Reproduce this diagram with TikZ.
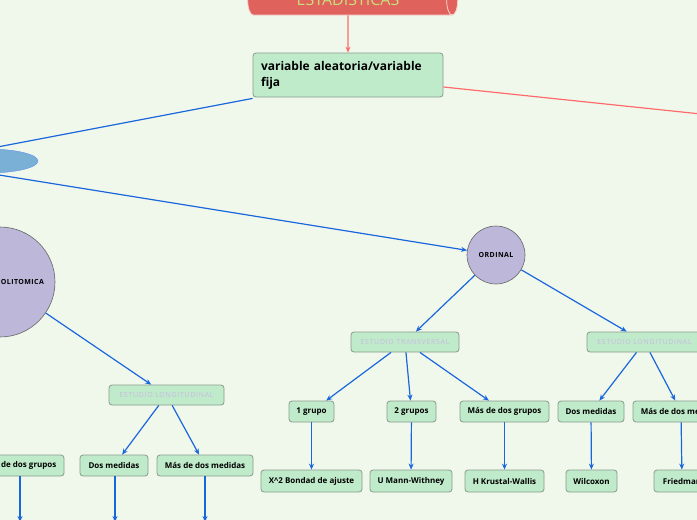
\documentclass[tikz,border=0pt]{standalone}
\usepackage{fontspec}
\setmainfont{Open Sans}
\newfontfamily\spaced[LetterSpace=10]{Open Sans}
\newfontfamily\spacedbf[LetterSpace=6]{Open Sans}
\usetikzlibrary{arrows.meta, positioning, calc, shapes.geometric}

\definecolor{bgcol}{HTML}{F0F8EC}
\definecolor{boxfill}{HTML}{C0EBCB}
\definecolor{boxdraw}{HTML}{8A9A8C}
\definecolor{circfill}{HTML}{BDB7DA}
\definecolor{ellfill}{HTML}{7BB0D6}
\definecolor{linkblue}{HTML}{1A66DD}
\definecolor{linkred}{HTML}{FF6B6B}
\definecolor{rootfill}{HTML}{E0625C}
\definecolor{roottext}{HTML}{C8E07A}
\definecolor{studytext}{HTML}{C9B8E3}

\begin{document}
\begin{tikzpicture}[
    x=1pt, y=-1pt,
    % Standard arrow
    arrow/.style={-{Stealth[length=6pt, width=5pt]}, linkblue, line width=1.2pt},
    redarrow/.style={-{Stealth[length=6pt, width=5pt]}, linkred, line width=1.2pt},
    % Boxes of the map
    leafbox/.style={draw=boxdraw, fill=boxfill, rounded corners=3pt, line width=0.8pt,
                    font=\bfseries\fontsize{8}{9}\selectfont, inner sep=0pt,
                    minimum height=21pt, text=black},
    studybox/.style={leafbox, minimum height=20pt,
                    font=\spaced\fontsize{7}{8}\selectfont, text=studytext},
    kindcirc/.style={circle, draw=gray!80!black, fill=circfill, line width=0.6pt,
                    font=\spacedbf\bfseries\fontsize{7}{8}\selectfont, inner sep=0pt}
]

% === BACKGROUND ===
\fill[bgcol] (0,0) rectangle (697,520);
\useasboundingbox (0,0) rectangle (697,520);
\clip (0,0) rectangle (697,520);

% === NODES ===

% Root at top (cut by the frame)
	\node [cylinder, shape border rotate=0, aspect=0.6,
	minimum height=210pt, minimum width=30pt,
	cylinder uses custom fill, cylinder body fill=rootfill, cylinder end fill=rootfill,
	draw=white!70!rootfill, line width=0.8pt,
	font=\fontsize{16}{18}\selectfont, text=roottext] (root) at (348,0) {ESTADISTICAS};

% Kind of variable
	\node [draw=boxdraw, fill=boxfill, rounded corners=3pt, line width=0.8pt,
	text width=174pt, align=left, inner sep=8pt, minimum height=44pt,
	font=\bfseries\fontsize{12}{16}\selectfont] (var) at (348,75) {variable aleatoria/variable fija};

% Blue ellipse on the left
	\node [ellipse, draw=linkblue!70, fill=ellfill, minimum width=100pt, minimum height=24pt,
	inner sep=0pt] (ell) at (-12,161) {};

% Circles
	\node [kindcirc, minimum size=110pt,
	label={[font=\spacedbf\bfseries\fontsize{7}{8}\selectfont, xshift=20pt]center:POLITOMICA}] (pol) at (0,282) {};
	\node [kindcirc, minimum size=58pt] (ord) at (496,255) {ORDINAL};

% Studies
	\node [studybox, minimum width=115pt] (lonA) at (166.5,395) {ESTUDIO LONGITUDINAL};
	\node [studybox, minimum width=108pt] (trans) at (405,342) {ESTUDIO TRANSVERSAL};
	\node [studybox, minimum width=115pt] (lonB) at (644.5,342) {ESTUDIO LONGITUDINAL};

% Groups and measures
	\node [leafbox, minimum width=89pt] (grpA) at (19.5,465.5) {Más de dos grupos};
	\node [leafbox, minimum width=68pt] (dosA) at (114,465.5) {Dos medidas};
	\node [leafbox, minimum width=96pt] (masA) at (205,465.5) {Más de dos medidas};

	\node [leafbox, minimum width=45pt] (g1) at (311.5,411.5) {1 grupo};
	\node [leafbox, minimum width=49pt] (g2) at (411.5,411.5) {2 grupos};
	\node [leafbox, minimum width=89pt] (g3) at (504.5,411.5) {Más de dos grupos};
	\node [leafbox, minimum width=66pt] (dosB) at (591,411.5) {Dos medidas};
	\node [leafbox, minimum width=96pt] (masB) at (681,411.5) {Más de dos medidas};

% Tests
	\node [leafbox, minimum width=101pt, minimum height=22pt] (chi) at (311.5,481) {X\^{}2 Bondad de ajuste};
	\node [leafbox, minimum width=82pt, minimum height=22pt] (umw) at (411,481) {U Mann-Withney};
	\node [leafbox, minimum width=79pt, minimum height=22pt] (hkw) at (504.5,481) {H Krustal-Wallis};
	\node [leafbox, minimum width=51pt, minimum height=22pt] (wil) at (591.5,481) {Wilcoxon};
	\node [leafbox, minimum width=56pt, minimum height=22pt] (fri) at (682,481) {Friedman};

% Free ends outside the frame
\coordinate (redend) at (720,116);
\coordinate (leftin) at (-40,405);
\coordinate (downA) at (20,522);
\coordinate (downB) at (115,522);
\coordinate (downC) at (205,522);

% === CONNECTORS ===
\draw[redarrow] (root) -- (var);
\draw[linkred, line width=1.2pt] ([yshift=-12pt]var.east) -- (redend);

\draw[arrow] ([yshift=-1pt]var.south west) -- (ell.north);
\draw[arrow] (ell.south) -- (ord);

\draw[arrow] (pol) -- (lonA);
\draw[arrow] (leftin) -- ([xshift=23pt]grpA.north west);
\draw[arrow] (lonA) -- (dosA);
\draw[arrow] (lonA) -- (masA);
\draw[arrow] (grpA.south -| downA) -- (downA);
\draw[arrow] (dosA.south -| downB) -- (downB);
\draw[arrow] (masA.south -| downC) -- (downC);

\draw[arrow] (ord) -- (trans);
\draw[arrow] (ord) -- (lonB);
\draw[arrow] (trans) -- (g1);
\draw[arrow] (trans) -- (g2);
\draw[arrow] (trans) -- (g3);
\draw[arrow] (lonB) -- (dosB);
\draw[arrow] (lonB) -- (masB);

\draw[arrow] (g1) -- (chi);
\draw[arrow] (g2) -- (umw);
\draw[arrow] (g3) -- (hkw);
\draw[arrow] (dosB) -- (wil);
\draw[arrow] (masB) -- (fri);

\end{tikzpicture}
\end{document}
